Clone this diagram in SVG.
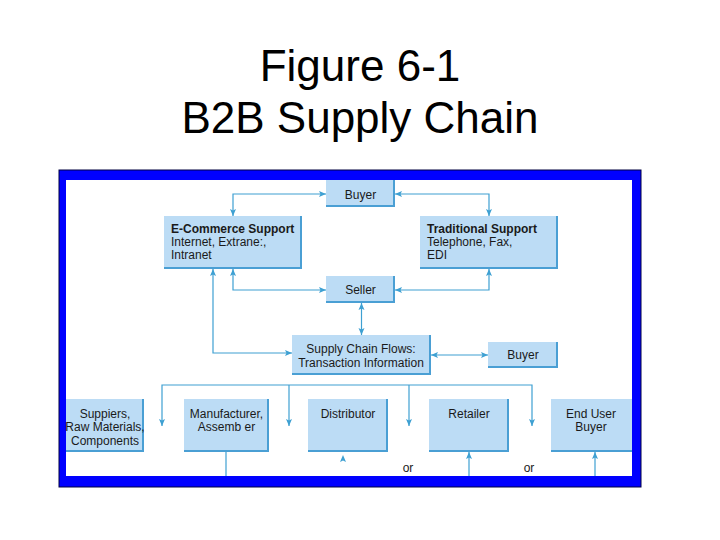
<svg xmlns="http://www.w3.org/2000/svg" width="720" height="540" viewBox="0 0 720 540">
<style>
.title{font-family:"Liberation Sans",Arial,sans-serif;font-size:44px;fill:#000;text-anchor:middle}
.box{fill:#bcdcf5}
.edge{fill:none;stroke:#4a9fd4;stroke-width:2}
.t{font-family:"Liberation Sans",Arial,sans-serif;font-size:12px;fill:#1a1a1a}
.c{text-anchor:middle}
.b{font-weight:bold}
.conn{fill:none;stroke:#3ea0d2;stroke-width:1.2}
</style>
<defs>
<marker id="ah" markerUnits="userSpaceOnUse" markerWidth="8" markerHeight="7" refX="7" refY="3.5" orient="auto-start-reverse">
<path d="M0,0.5 L7,3.5 L0,6.5 L1.5,3.5 z" fill="#3ea0d2"/>
</marker>
</defs>
<rect width="720" height="540" fill="#fff"/>
<text class="title" x="360" y="81">Figure 6-1</text>
<text class="title" x="360" y="133">B2B Supply Chain</text>
<g id="frame">
<rect x="59" y="170" width="582" height="317" fill="#0000ff" stroke="#000040" stroke-width="1"/>
<rect x="66" y="180" width="566" height="296" fill="#fff"/>
</g>
<g id="connectors">
<path class="conn" d="M233,216 V194 H326" marker-start="url(#ah)" marker-end="url(#ah)"/>
<path class="conn" d="M395,194 H489 V216" marker-start="url(#ah)" marker-end="url(#ah)"/>
<path class="conn" d="M233,269 V290 H326" marker-start="url(#ah)" marker-end="url(#ah)"/>
<path class="conn" d="M395,290 H489 V269" marker-start="url(#ah)" marker-end="url(#ah)"/>
<path class="conn" d="M361.5,303 V335" marker-start="url(#ah)" marker-end="url(#ah)"/>
<path class="conn" d="M213,269 V353 H292" marker-start="url(#ah)" marker-end="url(#ah)"/>
<path class="conn" d="M431,355 H488" marker-start="url(#ah)" marker-end="url(#ah)"/>
<path class="conn" d="M162,426 V385 H532 V426" marker-start="url(#ah)" marker-end="url(#ah)"/>
<path class="conn" d="M289,385 V426" marker-end="url(#ah)"/>
<path class="conn" d="M409,385 V426" marker-end="url(#ah)"/>
<path class="conn" d="M226,452 V476"/>
<path class="conn" d="M343,461 V455" marker-end="url(#ah)" stroke-opacity="0"/>
<path class="conn" d="M469,476 V452" marker-end="url(#ah)"/>
<path class="conn" d="M595,476 V452" marker-end="url(#ah)"/>
<text class="t c" x="408" y="471.5">or</text>
<text class="t c" x="529" y="471.5">or</text>
</g>
<g id="buyer-top">
<rect class="box" x="326" y="180" width="69" height="27"/>
<path class="edge" d="M394,180 V206 H326"/>
<text class="t c" x="360.5" y="198.5">Buyer</text>
</g>
<g id="ecommerce-support">
<rect class="box" x="164" y="216" width="138" height="53"/>
<path class="edge" d="M301,216 V268 H164"/>
<text class="t b" x="171" y="233">E-Commerce Support</text>
<text class="t" x="171" y="246">Internet, Extrane:,</text>
<text class="t" x="171" y="259">Intranet</text>
</g>
<g id="traditional-support">
<rect class="box" x="420" y="216" width="138" height="53"/>
<path class="edge" d="M557,216 V268 H420"/>
<text class="t b" x="427" y="233">Traditional Support</text>
<text class="t" x="427" y="246">Telephone, Fax,</text>
<text class="t" x="427" y="259">EDI</text>
</g>
<g id="seller">
<rect class="box" x="326" y="276" width="69" height="27"/>
<path class="edge" d="M394,276 V302 H326"/>
<text class="t c" x="360.5" y="294">Seller</text>
</g>
<g id="supply-chain-flows">
<rect class="box" x="292" y="335" width="139" height="40"/>
<path class="edge" d="M430,335 V374 H292"/>
<text class="t c" x="361" y="353">Supply Chain Flows:</text>
<text class="t c" x="361" y="366.5">Transaction Information</text>
</g>
<g id="buyer-right">
<rect class="box" x="488" y="342" width="70" height="26"/>
<path class="edge" d="M557,342 V367 H488"/>
<text class="t c" x="523" y="359">Buyer</text>
</g>
<g id="suppliers">
<rect class="box" x="66" y="399" width="78" height="53"/>
<path class="edge" d="M143,399 V451 H66"/>
<text class="t c" x="105" y="417.5">Suppiers,</text>
<text class="t c" x="105" y="431">Raw Materials,</text>
<text class="t c" x="105" y="444.5">Components</text>
</g>
<g id="manufacturer">
<rect class="box" x="184" y="399" width="85" height="53"/>
<path class="edge" d="M268,399 V451 H184"/>
<text class="t c" x="226.5" y="417.5">Manufacturer,</text>
<text class="t c" x="226.5" y="431">Assemb er</text>
</g>
<g id="distributor">
<rect class="box" x="308" y="399" width="80" height="53"/>
<path class="edge" d="M387,399 V451 H308"/>
<text class="t c" x="348" y="417.5">Distributor</text>
</g>
<g id="retailer">
<rect class="box" x="429" y="399" width="80" height="53"/>
<path class="edge" d="M508,399 V451 H429"/>
<text class="t c" x="469" y="417.5">Retailer</text>
</g>
<g id="end-user-buyer">
<rect class="box" x="551" y="399" width="81" height="53"/>
<path class="edge" d="M551,451 H632"/>
<text class="t c" x="591" y="417.5">End User</text>
<text class="t c" x="591" y="431">Buyer</text>
</g>
</svg>
